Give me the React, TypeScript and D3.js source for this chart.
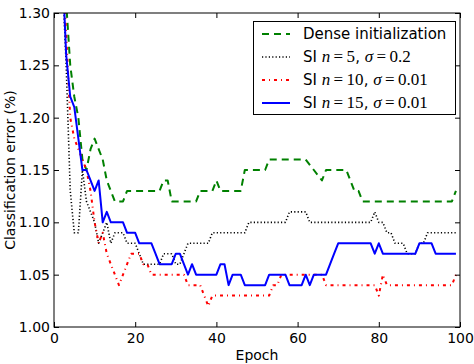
import React, { useEffect, useRef } from "react";
import * as d3 from "d3";

// epoch index for every series (1..99)
const epochs = d3.range(1, 100);

// Dense initialization
const dense = [
  1.6, 1.4, 1.31, 1.25, 1.22, 1.2, 1.16, 1.15, 1.17, 1.18,
  1.17, 1.16, 1.14, 1.13, 1.12, 1.12, 1.12, 1.13, 1.13, 1.13,
  1.13, 1.13, 1.13, 1.13, 1.13, 1.13, 1.14, 1.14, 1.12, 1.12,
  1.12, 1.12, 1.12, 1.12, 1.12, 1.13, 1.13, 1.13, 1.13, 1.14,
  1.13, 1.13, 1.13, 1.13, 1.13, 1.13, 1.15, 1.15, 1.15, 1.15,
  1.15, 1.15, 1.16, 1.16, 1.16, 1.16, 1.16, 1.16, 1.16, 1.16,
  1.16, 1.16, 1.155, 1.15, 1.145, 1.14, 1.15, 1.15, 1.15, 1.15,
  1.15, 1.15, 1.14, 1.13, 1.13, 1.12, 1.12, 1.12, 1.12, 1.12,
  1.12, 1.12, 1.12, 1.12, 1.12, 1.12, 1.12, 1.12, 1.12, 1.12,
  1.12, 1.12, 1.12, 1.12, 1.12, 1.12, 1.12, 1.12, 1.13,
];

// SI n=5, sigma=0.2
const si5 = [
  1.6, 1.34, 1.25, 1.13, 1.09, 1.09, 1.15, 1.12, 1.11, 1.1,
  1.08, 1.09, 1.1, 1.08, 1.09, 1.09, 1.09, 1.08, 1.08, 1.08,
  1.07, 1.06, 1.06, 1.06, 1.06, 1.06, 1.07, 1.07, 1.07, 1.06,
  1.06, 1.07, 1.08, 1.08, 1.08, 1.08, 1.08, 1.08, 1.09, 1.09,
  1.09, 1.09, 1.09, 1.09, 1.09, 1.09, 1.09, 1.1, 1.1, 1.1,
  1.1, 1.1, 1.1, 1.1, 1.1, 1.1, 1.1, 1.11, 1.11, 1.11,
  1.11, 1.11, 1.1, 1.1, 1.1, 1.1, 1.1, 1.1, 1.1, 1.1,
  1.1, 1.1, 1.1, 1.1, 1.1, 1.1, 1.1, 1.1, 1.11, 1.1,
  1.1, 1.09, 1.09, 1.08, 1.08, 1.08, 1.07, 1.07, 1.07, 1.08,
  1.08, 1.09, 1.09, 1.09, 1.09, 1.09, 1.09, 1.09, 1.09,
];

// SI n=10, sigma=0.01
const si10 = [
  1.6, 1.36, 1.28, 1.2, 1.18, 1.17, 1.16, 1.15, 1.13, 1.1,
  1.08, 1.09, 1.07, 1.06, 1.05, 1.04, 1.05, 1.06, 1.07, 1.07,
  1.07, 1.06, 1.06, 1.05, 1.05, 1.05, 1.05, 1.05, 1.05, 1.05,
  1.05, 1.05, 1.04, 1.04, 1.04, 1.04, 1.03, 1.02, 1.03, 1.03,
  1.03, 1.03, 1.03, 1.03, 1.03, 1.03, 1.03, 1.03, 1.03, 1.03,
  1.03, 1.03, 1.03, 1.04, 1.04, 1.05, 1.05, 1.05, 1.05, 1.05,
  1.05, 1.05, 1.05, 1.05, 1.05, 1.05, 1.04, 1.04, 1.04, 1.04,
  1.04, 1.04, 1.04, 1.04, 1.04, 1.04, 1.04, 1.04, 1.04, 1.03,
  1.05, 1.04, 1.04, 1.04, 1.04, 1.04, 1.04, 1.04, 1.04, 1.04,
  1.04, 1.04, 1.04, 1.04, 1.04, 1.04, 1.04, 1.04, 1.05,
];

// SI n=15, sigma=0.01
const si15 = [
  1.6, 1.35, 1.26, 1.22, 1.21, 1.18, 1.15, 1.15, 1.14, 1.13,
  1.14, 1.1, 1.11, 1.1, 1.1, 1.1, 1.1, 1.09, 1.09, 1.09,
  1.08, 1.08, 1.08, 1.08, 1.07, 1.06, 1.06, 1.06, 1.06, 1.07,
  1.07, 1.06, 1.05, 1.06, 1.05, 1.05, 1.05, 1.05, 1.05, 1.05,
  1.06, 1.06, 1.04, 1.05, 1.05, 1.05, 1.04, 1.04, 1.04, 1.04,
  1.04, 1.04, 1.05, 1.05, 1.05, 1.05, 1.05, 1.04, 1.04, 1.04,
  1.04, 1.05, 1.04, 1.05, 1.05, 1.05, 1.05, 1.06, 1.07, 1.08,
  1.08, 1.08, 1.08, 1.08, 1.08, 1.08, 1.08, 1.08, 1.07, 1.08,
  1.07, 1.07, 1.07, 1.07, 1.07, 1.07, 1.07, 1.07, 1.07, 1.08,
  1.08, 1.08, 1.08, 1.07, 1.07, 1.07, 1.07, 1.07, 1.07,
];

const xTicks = [0, 20, 40, 60, 80, 100];
const yTicks = [1.0, 1.05, 1.1, 1.15, 1.2, 1.25, 1.3];

const series = [
  { key: "dense", values: dense, color: "#008000", dash: "7,5", width: 2 },
  { key: "si5", values: si5, color: "#000000", dash: "1.2,2.2", width: 1.6 },
  { key: "si10", values: si10, color: "#ff0000", dash: "3,4,1,4", width: 2 },
  { key: "si15", values: si15, color: "#0000ff", dash: null, width: 2 },
];

const W = 474;
const H = 364;
const margin = { top: 13, right: 14, bottom: 37, left: 54 };

const App = () => {
  const ref = useRef(null);

  useEffect(() => {
    const svg = d3.select(ref.current);
    svg.selectAll("*").remove();

    const width = W - margin.left - margin.right;
    const height = H - margin.top - margin.bottom;

    const x = d3.scaleLinear().domain([0, 100]).range([0, width]);
    const y = d3.scaleLinear().domain([1.0, 1.3]).range([height, 0]);

    svg
      .append("defs")
      .append("clipPath")
      .attr("id", "plot-clip")
      .append("rect")
      .attr("width", width)
      .attr("height", height);

    const g = svg
      .append("g")
      .attr("transform", `translate(${margin.left},${margin.top})`);

    const font = "DejaVu Sans, sans-serif";

    // lines
    const line = d3
      .line<number>()
      .x((_, i) => x(epochs[i]))
      .y((d) => y(d));

    const lines = g.append("g").attr("clip-path", "url(#plot-clip)");
    series.forEach((s) => {
      lines
        .append("path")
        .datum(s.values)
        .attr("d", line)
        .attr("fill", "none")
        .attr("stroke", s.color)
        .attr("stroke-width", s.width)
        .attr("stroke-dasharray", s.dash)
        .attr("stroke-linejoin", "round");
    });

    // axes, ticks pointing inward
    const styleAxis = (sel) => {
      sel.select(".domain").remove();
      sel.selectAll("line").attr("stroke", "#000");
      sel
        .selectAll("text")
        .attr("fill", "#000")
        .style("font-family", font)
        .style("font-size", "14px");
    };

    g.append("g")
      .attr("transform", `translate(0,${height})`)
      .call(
        d3.axisBottom(x).tickValues(xTicks).tickSize(-5).tickPadding(6)
      )
      .call(styleAxis);
    g.append("g")
      .call(
        d3
          .axisLeft(y)
          .tickValues(yTicks)
          .tickSize(-5)
          .tickPadding(4)
          .tickFormat(d3.format(".2f"))
      )
      .call(styleAxis);
    g.append("g")
      .call(d3.axisTop(x).tickValues(xTicks).tickSize(-5).tickFormat(() => ""))
      .call(styleAxis);
    g.append("g")
      .attr("transform", `translate(${width},0)`)
      .call(d3.axisRight(y).tickValues(yTicks).tickSize(-5).tickFormat(() => ""))
      .call(styleAxis);

    // frame
    g.append("rect")
      .attr("width", width)
      .attr("height", height)
      .attr("fill", "none")
      .attr("stroke", "#000")
      .attr("stroke-width", 1);

    // axis labels
    svg
      .append("text")
      .attr("x", margin.left + width / 2)
      .attr("y", 360)
      .attr("text-anchor", "middle")
      .style("font-family", font)
      .style("font-size", "14px")
      .text("Epoch");
    svg
      .append("text")
      .attr("transform", `translate(15,${margin.top + height / 2}) rotate(-90)`)
      .attr("text-anchor", "middle")
      .style("font-family", font)
      .style("font-size", "14px")
      .text("Classification error (%)");

    // legend
    const lg = svg.append("g");
    lg.append("rect")
      .attr("x", 253.5)
      .attr("y", 21.5)
      .attr("width", 202)
      .attr("height", 93)
      .attr("fill", "#fff")
      .attr("stroke", "#000");

    const labels = [
      { text: "Dense initialization" },
      { n: "5", s: "0.2" },
      { n: "10", s: "0.01" },
      { n: "15", s: "0.01" },
    ];
    const serif = "Liberation Serif, DejaVu Serif, serif";
    series.forEach((s, i) => {
      const cy = 34 + i * 23;
      lg.append("line")
        .attr("x1", 262)
        .attr("x2", 290)
        .attr("y1", cy)
        .attr("y2", cy)
        .attr("stroke", s.color)
        .attr("stroke-width", s.width)
        .attr("stroke-dasharray", s.dash);
      const t = lg
        .append("text")
        .attr("x", 303)
        .attr("y", cy + 5)
        .style("font-family", font)
        .style("font-size", "15px");
      const lab = labels[i];
      if (lab.text) {
        t.text(lab.text);
      } else {
        t.append("tspan").text("SI ");
        t.append("tspan")
          .style("font-family", serif)
          .style("font-style", "italic")
          .style("font-size", "17px")
          .text("n");
        t.append("tspan")
          .style("font-family", serif)
          .style("font-size", "17px")
          .text("\u2009=\u2009" + lab.n);
        t.append("tspan").text(", ");
        t.append("tspan")
          .style("font-family", serif)
          .style("font-style", "italic")
          .style("font-size", "17px")
          .text("\u03c3");
        t.append("tspan")
          .style("font-family", serif)
          .style("font-size", "17px")
          .text("\u2009=\u2009" + lab.s);
      }
    });
  }, []);

  return (
    <svg
      ref={ref}
      width={W}
      height={H}
      style={{ position: "absolute", left: 0, top: 0, background: "#fff" }}
    />
  );
};

export default App;
